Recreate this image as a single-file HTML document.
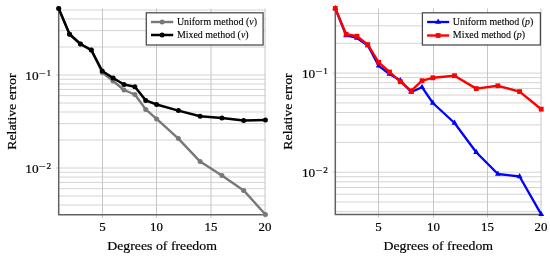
<!DOCTYPE html>
<html><head><meta charset="utf-8"><style>
html,body{margin:0;padding:0;background:#fff;width:550px;height:256px;overflow:hidden}
svg{display:block}
text{font-family:"Liberation Serif", "DejaVu Serif", serif;fill:#000;stroke:#000;stroke-width:0.2px}
.tk{font-size:12.9px}
.tky{font-size:13.3px}
.sup{font-size:9.2px}
.lab{font-size:13.1px}
.lg{font-size:9.95px;stroke-width:0.1px}
</style></head><body>
<svg width="550" height="256" viewBox="0 0 550 256">
<rect width="550" height="256" fill="#fff"/>
<line x1="58.70" y1="205.01" x2="265.42" y2="205.01" stroke="#d4d4d4" stroke-width="1.0"/>
<line x1="58.70" y1="196.00" x2="265.42" y2="196.00" stroke="#d4d4d4" stroke-width="1.0"/>
<line x1="58.70" y1="188.63" x2="265.42" y2="188.63" stroke="#d4d4d4" stroke-width="1.0"/>
<line x1="58.70" y1="182.41" x2="265.42" y2="182.41" stroke="#d4d4d4" stroke-width="1.0"/>
<line x1="58.70" y1="177.01" x2="265.42" y2="177.01" stroke="#d4d4d4" stroke-width="1.0"/>
<line x1="58.70" y1="172.26" x2="265.42" y2="172.26" stroke="#d4d4d4" stroke-width="1.0"/>
<line x1="55.90" y1="168.00" x2="265.42" y2="168.00" stroke="#d4d4d4" stroke-width="1.0"/>
<line x1="58.70" y1="140.00" x2="265.42" y2="140.00" stroke="#d4d4d4" stroke-width="1.0"/>
<line x1="58.70" y1="123.63" x2="265.42" y2="123.63" stroke="#d4d4d4" stroke-width="1.0"/>
<line x1="58.70" y1="112.01" x2="265.42" y2="112.01" stroke="#d4d4d4" stroke-width="1.0"/>
<line x1="58.70" y1="103.00" x2="265.42" y2="103.00" stroke="#d4d4d4" stroke-width="1.0"/>
<line x1="58.70" y1="95.63" x2="265.42" y2="95.63" stroke="#d4d4d4" stroke-width="1.0"/>
<line x1="58.70" y1="89.41" x2="265.42" y2="89.41" stroke="#d4d4d4" stroke-width="1.0"/>
<line x1="58.70" y1="84.01" x2="265.42" y2="84.01" stroke="#d4d4d4" stroke-width="1.0"/>
<line x1="58.70" y1="79.26" x2="265.42" y2="79.26" stroke="#d4d4d4" stroke-width="1.0"/>
<line x1="55.90" y1="75.00" x2="265.42" y2="75.00" stroke="#d4d4d4" stroke-width="1.0"/>
<line x1="58.70" y1="47.00" x2="265.42" y2="47.00" stroke="#d4d4d4" stroke-width="1.0"/>
<line x1="58.70" y1="30.63" x2="265.42" y2="30.63" stroke="#d4d4d4" stroke-width="1.0"/>
<line x1="58.70" y1="19.01" x2="265.42" y2="19.01" stroke="#d4d4d4" stroke-width="1.0"/>
<line x1="58.70" y1="10.00" x2="265.42" y2="10.00" stroke="#d4d4d4" stroke-width="1.0"/>
<line x1="102.50" y1="8.50" x2="102.50" y2="217.95" stroke="#c6c6c6" stroke-width="1.0"/>
<line x1="156.50" y1="8.50" x2="156.50" y2="217.95" stroke="#c6c6c6" stroke-width="1.0"/>
<line x1="211.00" y1="8.50" x2="211.00" y2="217.95" stroke="#c6c6c6" stroke-width="1.0"/>
<line x1="265.00" y1="8.50" x2="265.00" y2="217.95" stroke="#c6c6c6" stroke-width="1.0"/>
<polyline points="58.70,8.50 58.70,214.75 265.42,214.75" fill="none" stroke="#626262" stroke-width="1.5"/>
<text x="102.50" y="231.00" text-anchor="middle" class="tk">5</text>
<text x="156.50" y="231.00" text-anchor="middle" class="tk">10</text>
<text x="211.00" y="231.00" text-anchor="middle" class="tk">15</text>
<text x="265.00" y="231.00" text-anchor="middle" class="tk">20</text>
<text x="25.30" y="173.40" class="tky">10</text>
<text transform="translate(38.60,169.90) scale(1.35,1)" class="sup">−</text>
<text x="46.60" y="168.80" class="sup">2</text>
<text x="25.30" y="80.40" class="tky">10</text>
<text transform="translate(38.60,76.90) scale(1.35,1)" class="sup">−</text>
<text x="46.60" y="75.80" class="sup">1</text>
<text transform="translate(162.06,249.60) scale(1.055,1)" text-anchor="middle" class="lab">Degrees of freedom</text>
<text transform="translate(16.10,111.62) rotate(-90) scale(1.055,1)" x="0" y="0" text-anchor="middle" class="lab">Relative error</text>
<polyline points="58.70,8.60 69.58,34.20 80.46,44.00 91.34,50.10 102.22,72.60 113.10,81.00 123.98,90.00 134.86,94.50 145.74,109.40 156.62,118.90 178.38,138.60 200.14,161.60 221.90,175.40 243.66,190.40 265.42,214.50" fill="none" stroke="#787878" stroke-width="2.4" stroke-linejoin="round"/>
<circle cx="58.70" cy="8.60" r="2.5" fill="#787878"/>
<circle cx="69.58" cy="34.20" r="2.5" fill="#787878"/>
<circle cx="80.46" cy="44.00" r="2.5" fill="#787878"/>
<circle cx="91.34" cy="50.10" r="2.5" fill="#787878"/>
<circle cx="102.22" cy="72.60" r="2.5" fill="#787878"/>
<circle cx="113.10" cy="81.00" r="2.5" fill="#787878"/>
<circle cx="123.98" cy="90.00" r="2.5" fill="#787878"/>
<circle cx="134.86" cy="94.50" r="2.5" fill="#787878"/>
<circle cx="145.74" cy="109.40" r="2.5" fill="#787878"/>
<circle cx="156.62" cy="118.90" r="2.5" fill="#787878"/>
<circle cx="178.38" cy="138.60" r="2.5" fill="#787878"/>
<circle cx="200.14" cy="161.60" r="2.5" fill="#787878"/>
<circle cx="221.90" cy="175.40" r="2.5" fill="#787878"/>
<circle cx="243.66" cy="190.40" r="2.5" fill="#787878"/>
<circle cx="265.42" cy="214.50" r="2.5" fill="#787878"/>
<polyline points="58.70,8.60 69.58,34.20 80.46,44.00 91.34,50.10 102.22,71.00 113.10,78.00 123.98,84.50 134.86,86.80 145.74,100.40 156.62,104.50 178.38,110.60 200.14,116.30 221.90,117.90 243.66,120.40 265.42,120.00" fill="none" stroke="#000000" stroke-width="2.5" stroke-linejoin="round"/>
<circle cx="58.70" cy="8.60" r="2.5" fill="#000000"/>
<circle cx="69.58" cy="34.20" r="2.5" fill="#000000"/>
<circle cx="80.46" cy="44.00" r="2.5" fill="#000000"/>
<circle cx="91.34" cy="50.10" r="2.5" fill="#000000"/>
<circle cx="102.22" cy="71.00" r="2.5" fill="#000000"/>
<circle cx="113.10" cy="78.00" r="2.5" fill="#000000"/>
<circle cx="123.98" cy="84.50" r="2.5" fill="#000000"/>
<circle cx="134.86" cy="86.80" r="2.5" fill="#000000"/>
<circle cx="145.74" cy="100.40" r="2.5" fill="#000000"/>
<circle cx="156.62" cy="104.50" r="2.5" fill="#000000"/>
<circle cx="178.38" cy="110.60" r="2.5" fill="#000000"/>
<circle cx="200.14" cy="116.30" r="2.5" fill="#000000"/>
<circle cx="221.90" cy="117.90" r="2.5" fill="#000000"/>
<circle cx="243.66" cy="120.40" r="2.5" fill="#000000"/>
<circle cx="265.42" cy="120.00" r="2.5" fill="#000000"/>
<rect x="146.30" y="12.80" width="116.80" height="32.20" fill="#fff" stroke="#484848" stroke-width="1.25"/>
<line x1="151.00" y1="22.00" x2="173.20" y2="22.00" stroke="#787878" stroke-width="2.4"/>
<circle cx="162.10" cy="22.00" r="2.5" fill="#787878"/>
<text x="176.90" y="24.80" class="lg">Uniform method (<tspan font-style="italic">v</tspan>)</text>
<line x1="151.00" y1="35.00" x2="173.20" y2="35.00" stroke="#000000" stroke-width="2.5"/>
<circle cx="162.10" cy="35.00" r="2.5" fill="#000000"/>
<text x="176.90" y="37.90" class="lg">Mixed method (<tspan font-style="italic">v</tspan>)</text>
<line x1="335.30" y1="211.64" x2="541.26" y2="211.64" stroke="#d4d4d4" stroke-width="1.0"/>
<line x1="335.30" y1="202.03" x2="541.26" y2="202.03" stroke="#d4d4d4" stroke-width="1.0"/>
<line x1="335.30" y1="194.19" x2="541.26" y2="194.19" stroke="#d4d4d4" stroke-width="1.0"/>
<line x1="335.30" y1="187.55" x2="541.26" y2="187.55" stroke="#d4d4d4" stroke-width="1.0"/>
<line x1="335.30" y1="181.80" x2="541.26" y2="181.80" stroke="#d4d4d4" stroke-width="1.0"/>
<line x1="335.30" y1="176.73" x2="541.26" y2="176.73" stroke="#d4d4d4" stroke-width="1.0"/>
<line x1="332.50" y1="172.20" x2="541.26" y2="172.20" stroke="#d4d4d4" stroke-width="1.0"/>
<line x1="335.30" y1="142.37" x2="541.26" y2="142.37" stroke="#d4d4d4" stroke-width="1.0"/>
<line x1="335.30" y1="124.92" x2="541.26" y2="124.92" stroke="#d4d4d4" stroke-width="1.0"/>
<line x1="335.30" y1="112.54" x2="541.26" y2="112.54" stroke="#d4d4d4" stroke-width="1.0"/>
<line x1="335.30" y1="102.93" x2="541.26" y2="102.93" stroke="#d4d4d4" stroke-width="1.0"/>
<line x1="335.30" y1="95.09" x2="541.26" y2="95.09" stroke="#d4d4d4" stroke-width="1.0"/>
<line x1="335.30" y1="88.45" x2="541.26" y2="88.45" stroke="#d4d4d4" stroke-width="1.0"/>
<line x1="335.30" y1="82.70" x2="541.26" y2="82.70" stroke="#d4d4d4" stroke-width="1.0"/>
<line x1="335.30" y1="77.63" x2="541.26" y2="77.63" stroke="#d4d4d4" stroke-width="1.0"/>
<line x1="332.50" y1="73.10" x2="541.26" y2="73.10" stroke="#d4d4d4" stroke-width="1.0"/>
<line x1="335.30" y1="43.27" x2="541.26" y2="43.27" stroke="#d4d4d4" stroke-width="1.0"/>
<line x1="335.30" y1="25.82" x2="541.26" y2="25.82" stroke="#d4d4d4" stroke-width="1.0"/>
<line x1="335.30" y1="13.44" x2="541.26" y2="13.44" stroke="#d4d4d4" stroke-width="1.0"/>
<line x1="378.50" y1="8.50" x2="378.50" y2="217.70" stroke="#c6c6c6" stroke-width="1.0"/>
<line x1="433.50" y1="8.50" x2="433.50" y2="217.70" stroke="#c6c6c6" stroke-width="1.0"/>
<line x1="487.50" y1="8.50" x2="487.50" y2="217.70" stroke="#c6c6c6" stroke-width="1.0"/>
<line x1="541.00" y1="8.50" x2="541.00" y2="217.70" stroke="#c6c6c6" stroke-width="1.0"/>
<polyline points="335.30,8.50 335.30,214.50 541.26,214.50" fill="none" stroke="#626262" stroke-width="1.5"/>
<text x="378.50" y="231.00" text-anchor="middle" class="tk">5</text>
<text x="433.50" y="231.00" text-anchor="middle" class="tk">10</text>
<text x="487.50" y="231.00" text-anchor="middle" class="tk">15</text>
<text x="541.00" y="231.00" text-anchor="middle" class="tk">20</text>
<text x="301.90" y="177.40" class="tky">10</text>
<text transform="translate(315.20,173.90) scale(1.35,1)" class="sup">−</text>
<text x="323.20" y="172.80" class="sup">2</text>
<text x="301.90" y="78.30" class="tky">10</text>
<text transform="translate(315.20,74.80) scale(1.35,1)" class="sup">−</text>
<text x="323.20" y="73.70" class="sup">1</text>
<text transform="translate(438.28,249.60) scale(1.055,1)" text-anchor="middle" class="lab">Degrees of freedom</text>
<text transform="translate(292.40,111.50) rotate(-90) scale(1.055,1)" x="0" y="0" text-anchor="middle" class="lab">Relative error</text>
<polyline points="335.30,8.40 346.14,35.50 356.98,38.00 367.82,45.50 378.66,65.80 389.50,74.00 400.34,80.50 411.18,92.00 422.02,87.20 432.86,103.00 454.54,123.00 476.22,152.20 497.90,174.00 519.58,176.50 541.26,214.40" fill="none" stroke="#0000ff" stroke-width="2.3" stroke-linejoin="round"/>
<polygon points="335.30,5.00 332.36,10.10 338.24,10.10" fill="#0000ff"/>
<polygon points="346.14,32.10 343.20,37.20 349.08,37.20" fill="#0000ff"/>
<polygon points="356.98,34.60 354.04,39.70 359.92,39.70" fill="#0000ff"/>
<polygon points="367.82,42.10 364.88,47.20 370.76,47.20" fill="#0000ff"/>
<polygon points="378.66,62.40 375.72,67.50 381.60,67.50" fill="#0000ff"/>
<polygon points="389.50,70.60 386.56,75.70 392.44,75.70" fill="#0000ff"/>
<polygon points="400.34,77.10 397.40,82.20 403.28,82.20" fill="#0000ff"/>
<polygon points="411.18,88.60 408.24,93.70 414.12,93.70" fill="#0000ff"/>
<polygon points="422.02,83.80 419.08,88.90 424.96,88.90" fill="#0000ff"/>
<polygon points="432.86,99.60 429.92,104.70 435.80,104.70" fill="#0000ff"/>
<polygon points="454.54,119.60 451.60,124.70 457.48,124.70" fill="#0000ff"/>
<polygon points="476.22,148.80 473.28,153.90 479.16,153.90" fill="#0000ff"/>
<polygon points="497.90,170.60 494.96,175.70 500.84,175.70" fill="#0000ff"/>
<polygon points="519.58,173.10 516.64,178.20 522.52,178.20" fill="#0000ff"/>
<polygon points="541.26,211.00 538.32,216.10 544.20,216.10" fill="#0000ff"/>
<polyline points="335.30,8.40 346.14,34.20 356.98,36.20 367.82,44.70 378.66,62.30 389.50,72.00 400.34,81.70 411.18,90.80 422.02,80.70 432.86,77.80 454.54,75.70 476.22,88.60 497.90,85.80 519.58,91.60 541.26,109.20" fill="none" stroke="#ff0000" stroke-width="2.4" stroke-linejoin="round"/>
<rect x="332.90" y="6.00" width="4.80" height="4.80" fill="#ff0000"/>
<rect x="343.74" y="31.80" width="4.80" height="4.80" fill="#ff0000"/>
<rect x="354.58" y="33.80" width="4.80" height="4.80" fill="#ff0000"/>
<rect x="365.42" y="42.30" width="4.80" height="4.80" fill="#ff0000"/>
<rect x="376.26" y="59.90" width="4.80" height="4.80" fill="#ff0000"/>
<rect x="387.10" y="69.60" width="4.80" height="4.80" fill="#ff0000"/>
<rect x="397.94" y="79.30" width="4.80" height="4.80" fill="#ff0000"/>
<rect x="408.78" y="88.40" width="4.80" height="4.80" fill="#ff0000"/>
<rect x="419.62" y="78.30" width="4.80" height="4.80" fill="#ff0000"/>
<rect x="430.46" y="75.40" width="4.80" height="4.80" fill="#ff0000"/>
<rect x="452.14" y="73.30" width="4.80" height="4.80" fill="#ff0000"/>
<rect x="473.82" y="86.20" width="4.80" height="4.80" fill="#ff0000"/>
<rect x="495.50" y="83.40" width="4.80" height="4.80" fill="#ff0000"/>
<rect x="517.18" y="89.20" width="4.80" height="4.80" fill="#ff0000"/>
<rect x="538.86" y="106.80" width="4.80" height="4.80" fill="#ff0000"/>
<rect x="422.40" y="12.80" width="118.00" height="32.20" fill="#fff" stroke="#484848" stroke-width="1.25"/>
<line x1="427.10" y1="22.00" x2="449.20" y2="22.00" stroke="#0000ff" stroke-width="2.3"/>
<polygon points="438.15,18.60 435.21,23.70 441.09,23.70" fill="#0000ff"/>
<text x="452.80" y="24.80" class="lg">Uniform method (<tspan font-style="italic">p</tspan>)</text>
<line x1="427.10" y1="35.50" x2="449.20" y2="35.50" stroke="#ff0000" stroke-width="2.4"/>
<rect x="435.75" y="33.10" width="4.80" height="4.80" fill="#ff0000"/>
<text x="452.80" y="37.90" class="lg">Mixed method (<tspan font-style="italic">p</tspan>)</text>
</svg>
</body></html>
